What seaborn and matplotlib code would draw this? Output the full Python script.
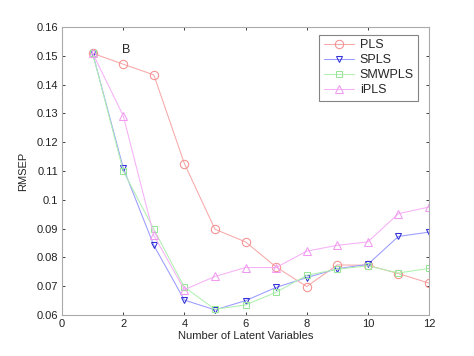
import matplotlib
matplotlib.use("Agg")
import matplotlib.pyplot as plt
import seaborn as sns
import pandas as pd

lv = [1, 2, 3, 4, 5, 6, 7, 8, 9, 10, 11, 12]
pls = [0.1509, 0.1471, 0.1434, 0.1126, 0.0898, 0.0854, 0.0767, 0.0699, 0.0774, 0.0773, 0.0744, 0.0711]
spls = [0.1509, 0.1111, 0.0842, 0.0652, 0.0618, 0.0650, 0.0696, 0.0730, 0.0761, 0.0776, 0.0873, 0.0888]
smwpls = [0.1509, 0.1100, 0.0898, 0.0697, 0.0620, 0.0635, 0.0679, 0.0738, 0.0759, 0.0771, 0.0746, 0.0762]
ipls = [0.1509, 0.1292, 0.0877, 0.0688, 0.0734, 0.0765, 0.0765, 0.0822, 0.0842, 0.0854, 0.0952, 0.0975]
names = ["PLS", "SPLS", "SMWPLS", "iPLS"]
xticks = [0, 2, 4, 6, 8, 10, 12]
yticks = [0.06, 0.07, 0.08, 0.09, 0.1, 0.11, 0.12, 0.13, 0.14, 0.15, 0.16]

sns.set_theme(style="white")
plt.rcParams['font.family'] = ['Liberation Sans', 'DejaVu Sans']

fig = plt.figure(figsize=(4.74, 3.56), dpi=100)
ax = fig.add_axes([0.131, 0.115, 0.774, 0.809])

styles = {
    "PLS": dict(color="#f7a8a8", marker="o", mec="#f49090", ms=6),
    "SPLS": dict(color="#9a9aff", marker="v", mec="#3030d8", ms=4),
    "SMWPLS": dict(color="#b0f0b0", marker="s", mec="#98e498", ms=5),
    "iPLS": dict(color="#f7b0f7", marker="^", mec="#f09af0", ms=6),
}
series = [pls, spls, smwpls, ipls]
for name, vals in zip(names, series):
    df = pd.DataFrame({"x": lv, "y": vals})
    st = styles[name]
    sns.lineplot(data=df, x="x", y="y", ax=ax, color=st["color"], lw=0.75,
                 marker=st["marker"], markersize=st["ms"], markerfacecolor="none",
                 markeredgecolor=st["mec"], markeredgewidth=0.75, label=name)

ax.set_xlim(0, 12)
ax.set_ylim(0.06, 0.16)
ax.set_xticks(xticks)
ax.set_xticklabels([str(t) for t in xticks])
ax.set_yticks(yticks)
ax.set_yticklabels(["0.06", "0.07", "0.08", "0.09", "0.1", "0.11", "0.12", "0.13", "0.14", "0.15", "0.16"])
ax.tick_params(direction="in", top=True, right=True, length=2, width=0.6,
               labelsize=8, colors="#222222", pad=3, bottom=True, left=True)
for sp in ax.spines.values():
    sp.set_color("#aaaaaa")
    sp.set_linewidth(0.8)
ax.set_xlabel("Number of Latent Variables", fontsize=8, labelpad=1)
ax.set_ylabel("RMSEP", fontsize=8, labelpad=6)
ax.text(2.1, 0.1522, "B", fontsize=9, ha="center", va="center")

leg = ax.legend(loc="upper right", bbox_to_anchor=(0.988, 0.995), fontsize=9,
                frameon=True, fancybox=False, edgecolor="#666666",
                handlelength=2.4, borderpad=0.35, labelspacing=0.25, handletextpad=0.5)
leg.get_frame().set_linewidth(0.8)

fig.savefig("out.png", dpi=100, facecolor="white")
